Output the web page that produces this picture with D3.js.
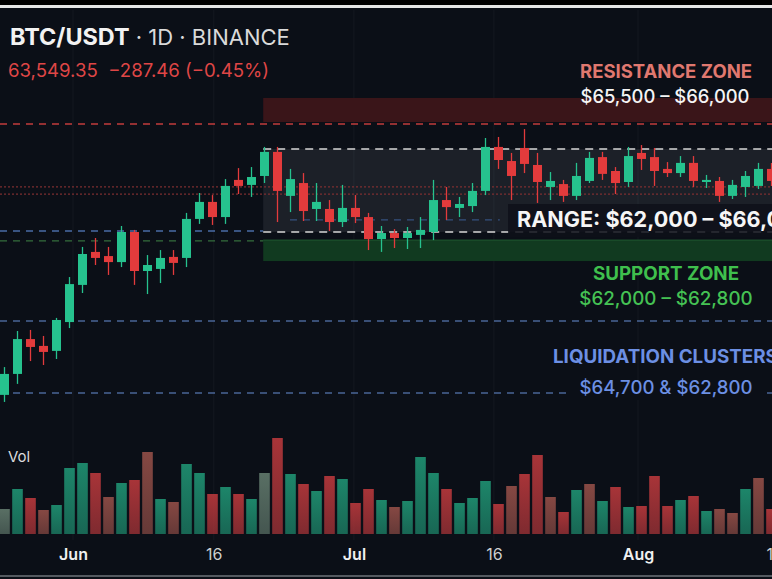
<!DOCTYPE html>
<html><head><meta charset="utf-8">
<script src="https://cdn.jsdelivr.net/npm/d3@7"></script>
<style>
html,body{margin:0;padding:0;background:#0b0f17;overflow:hidden}
svg{display:block;font-family:Inter,"Liberation Sans",sans-serif}
</style></head><body>
<svg id="c" width="772" height="579"></svg>
<script>
// ---------- DATA ----------
const candleOpen  = [54150,55160,56840,56510,56270,57660,59450,61040,60840,60550,62000,60120,60220,60800,60750,62630,63450,62720,64510,64270,64700,65860,63740,64360,63110,63110,62480,63160,62720,61660,61950,61710,61860,62000,63540,63160,63250,63980,66100,65420,66050,65230,64170,64310,63740,64460,65610,64940,64410,65810,65610,65040,64840,65330,64410,64460,63740,64170,64220,65040];
const candleHigh  = [55490,57230,57280,56990,57860,59830,61280,61710,61280,62290,62100,60890,61130,61130,62920,63880,63780,64550,65080,65130,66100,66100,65040,64840,64360,63540,64270,63780,62920,62290,62140,62240,62720,64510,64170,63690,64360,66530,66580,65810,66960,65810,64890,64510,65330,65860,65860,65130,66100,66190,66050,65370,65660,65660,64750,64650,64510,64940,65330,65330];
const candleLow   = [53810,54680,55780,55590,55880,57370,59060,60410,59930,60310,59450,59010,59540,59930,60310,62390,62340,62390,63830,63690,64360,62480,62960,62530,62530,62050,62240,62430,61130,61040,61230,61180,61230,61610,62580,62720,62960,63780,65040,63540,64840,63400,63540,63450,63540,64360,64510,63830,64170,64990,64220,64650,64650,64170,64120,63450,63590,63690,64070,64220];
const candleClose = [55160,56840,56460,56220,57760,59490,60940,60750,60550,62000,60120,60410,60750,60510,62630,63450,62720,64220,64220,64650,65860,63980,64550,63010,63450,62480,63160,62720,61660,61950,61710,61950,62100,63540,63200,63350,63980,66100,65470,64700,65280,64410,64460,63740,64700,65570,64800,64360,65660,65520,64940,64840,65330,64460,64510,63740,64270,64700,65040,64460];
const volume      = [25,45,36,24,29,66,71,61,37,51,54,82,35,32,70,61,40,47,40,35,61,96,60,50,43,58,55,31,45,34,27,33,77,61,45,31,36,53,30,48,60,79,37,22,44,50,33,47,27,28,58,28,34,38,23,25,21,45,56,25];
const volumeTone  = ["mg","g","r","mr","g","g","g","r","mr","g","r","mr","g","mr","g","g","r","g","r","g","mg","r","g","r","g","r","g","r","r","g","mr","g","g","g","r","g","g","g","r","mr","r","r","mr","r","g","mr","g","r","g","r","r","r","g","r","g","mr","mr","g","mr","r"];
const tickAt      = [5.27,16.1,26.88,37.65,48.73,59.2];
const tickLabels  = ["Jun","16","Jul","16","Aug","16"];
const tickIsMonth = [true,false,true,false,true,false];
// zones / levels (prices) and the candle index where the zones begin
const zoneStart       = 19.9;
const resistanceZone  = [67300,68460];
const resistanceLine  = 67200;
const rangeZone       = [62000,66000];
const supportZone     = [60600,61610];
const supportLineLeft = 61570;
const liqLineLeft     = 62050;
const innerLevel      = 62580, innerFrom = 21.96, innerTo = 38.1;
const priceLines      = [64170,63830];
const liqLines        = [57710,54240];

// ---------- SCALES ----------
const W=772,H=579,n=candleOpen.length;
const svg=d3.select('#c');
const x=d3.scaleLinear().domain([0,n-1]).range([4.5,771.5]);
const y=d3.scaleLinear().domain([62000,66000]).range([232,149]);
const vy=d3.scaleLinear().domain([0,100]).range([534,434]);
const bodyW=9, volW=10.6;
const GREEN='#26c28e', RED='#e33b3c';

svg.append('rect').attr('width',W).attr('height',H).attr('fill','#0b0f17');
svg.append('rect').attr('width',W).attr('height',5).attr('fill','#000');
svg.append('rect').attr('y',5).attr('width',W).attr('height',3).attr('fill','#e6e6e6');

// vertical grid
svg.append('g').selectAll('line').data(tickAt).join('line')
  .attr('x1',d=>x(d)).attr('x2',d=>x(d)).attr('y1',10).attr('y2',540)
  .attr('stroke','rgba(255,255,255,0.045)').attr('stroke-width',1);

// zones
const zx=x(zoneStart);
svg.append('rect').attr('x',zx).attr('width',W-zx)
  .attr('y',y(resistanceZone[1])).attr('height',y(resistanceZone[0])-y(resistanceZone[1]))
  .attr('fill','#3a1519');
svg.append('rect').attr('x',zx).attr('width',W-zx)
  .attr('y',y(rangeZone[1])).attr('height',y(rangeZone[0])-y(rangeZone[1]))
  .attr('fill','rgba(200,210,225,0.09)');
svg.append('rect').attr('x',zx).attr('width',W-zx)
  .attr('y',y(supportZone[1])).attr('height',y(supportZone[0])-y(supportZone[1]))
  .attr('fill','#113a20');
svg.append('line').attr('x1',zx).attr('x2',W).attr('y1',y(supportZone[1])).attr('y2',y(supportZone[1]))
  .attr('stroke','#1f5a30').attr('stroke-width',1);

function hline(p,x1,x2,color,dash,w){
  svg.append('line').attr('x1',x1).attr('x2',x2).attr('y1',y(p)).attr('y2',y(p))
    .attr('stroke',color).attr('stroke-width',w||1.4).attr('stroke-dasharray',dash);
}
hline(resistanceLine,0,W,'#c23c3c','7,6',1.5);
priceLines.forEach(p=>hline(p,0,W,'#7c2e30','2,2',1.2));
hline(liqLineLeft,0,zx,'#4a6ca6','7,6',1.4);
hline(supportLineLeft,0,zx,'#356e3c','7,6',1.4);
hline(innerLevel,x(innerFrom),x(innerTo),'#34507e','7,6',1.3);
hline(rangeZone[1],zx,W,'#d6d6d6','8,6',1.6);
hline(rangeZone[0],zx,W,'#d6d6d6','8,6',1.6);
liqLines.forEach(p=>hline(p,0,W,'#4a6597','7,6',1.4));

// candles
const idx=d3.range(n);
const cg=svg.append('g');
cg.selectAll('line').data(idx).join('line')
  .attr('x1',i=>x(i)).attr('x2',i=>x(i))
  .attr('y1',i=>y(candleHigh[i])).attr('y2',i=>y(candleLow[i]))
  .attr('stroke',i=>candleClose[i]>=candleOpen[i]?GREEN:RED).attr('stroke-width',1.3);
cg.selectAll('rect').data(idx).join('rect')
  .attr('x',i=>x(i)-bodyW/2).attr('width',bodyW)
  .attr('y',i=>y(Math.max(candleOpen[i],candleClose[i])))
  .attr('height',i=>Math.max(2,Math.abs(y(candleOpen[i])-y(candleClose[i]))))
  .attr('fill',i=>candleClose[i]>=candleOpen[i]?GREEN:RED);

// volume
const defs=svg.append('defs');
const toneColor={g:'#1e8c6e',r:'#b0363a',mg:'#5d7468',mr:'#8c4b45'};
Object.entries(toneColor).forEach(([k,c])=>{
  const gr=defs.append('linearGradient').attr('id','v'+k).attr('x1',0).attr('x2',0).attr('y1',0).attr('y2',1);
  gr.append('stop').attr('offset','0%').attr('stop-color',c).attr('stop-opacity',0.95);
  gr.append('stop').attr('offset','100%').attr('stop-color',c).attr('stop-opacity',0.7);
});
svg.append('g').selectAll('rect').data(idx).join('rect')
  .attr('x',i=>x(i)-volW/2).attr('width',volW)
  .attr('y',i=>vy(volume[i])).attr('height',i=>vy(0)-vy(volume[i]))
  .attr('fill',i=>'url(#v'+volumeTone[i]+')');

svg.append('text').attr('x',8).attr('y',462).attr('font-size',15).attr('fill','#dcdcdc').text('Vol');

// x axis
const ax=d3.axisBottom(x).tickValues(tickAt).tickFormat((d,i)=>tickLabels[i]).tickSize(0).tickPadding(3);
const ag=svg.append('g').attr('transform','translate(0,546)').call(ax);
ag.select('.domain').remove();
ag.selectAll('text').attr('font-size',16).attr('font-family','Inter,"Liberation Sans",sans-serif')
  .attr('fill',(d,i)=>tickIsMonth[i]?'#f0f0f0':'#cfcfcf')
  .attr('font-weight',(d,i)=>tickIsMonth[i]?600:400);
svg.append('rect').attr('y',575).attr('width',W).attr('height',2).attr('fill','#555a60');

// header
const t1=svg.append('text').attr('x',10).attr('y',45).attr('style','white-space:pre');
t1.append('tspan').text('BTC/USDT').attr('font-weight',700).attr('font-size',23.4).attr('fill','#f2f2f2');
t1.append('tspan').text(' · 1D · BINANCE').attr('font-size',22).attr('fill','#dadada');
svg.append('text').attr('x',8).attr('y',77).attr('style','white-space:pre')
  .attr('font-size',18.6).attr('fill','#df4646').text('63,549.35  −287.46 (−0.45%)');

// right labels
function label(txt,xp,yp,size,color,weight,anchor){
  return svg.append('text').attr('x',xp).attr('y',yp).attr('font-size',size).attr('fill',color)
    .attr('font-weight',weight).attr('text-anchor',anchor||'middle').text(txt);
}
label('RESISTANCE ZONE',666,78,18.5,'#e0786f',700);
label('$65,500 – $66,000',665,103,18.4,'#f4f4f4',500);
svg.append('rect').attr('x',508).attr('y',204).attr('width',W-508).attr('height',33).attr('fill','rgba(14,17,25,0.85)');
label('RANGE: $62,000 – $66,000',517,227,21.6,'#f6f6f6',700,'start');
label('SUPPORT ZONE',666,280,18.8,'#3fbf4d',700);
label('$62,000 – $62,800',666,305,18.8,'#45c254',500);
label('LIQUIDATION CLUSTERS',553,363,18.8,'#6c8fe4',700,'start');
svg.append('rect').attr('x',570).attr('y',381).attr('width',196).attr('height',19).attr('fill','#0b0f17');
label('$64,700 & $62,800',666,394,18.6,'#6c8fe4',500);
</script></body></html>
